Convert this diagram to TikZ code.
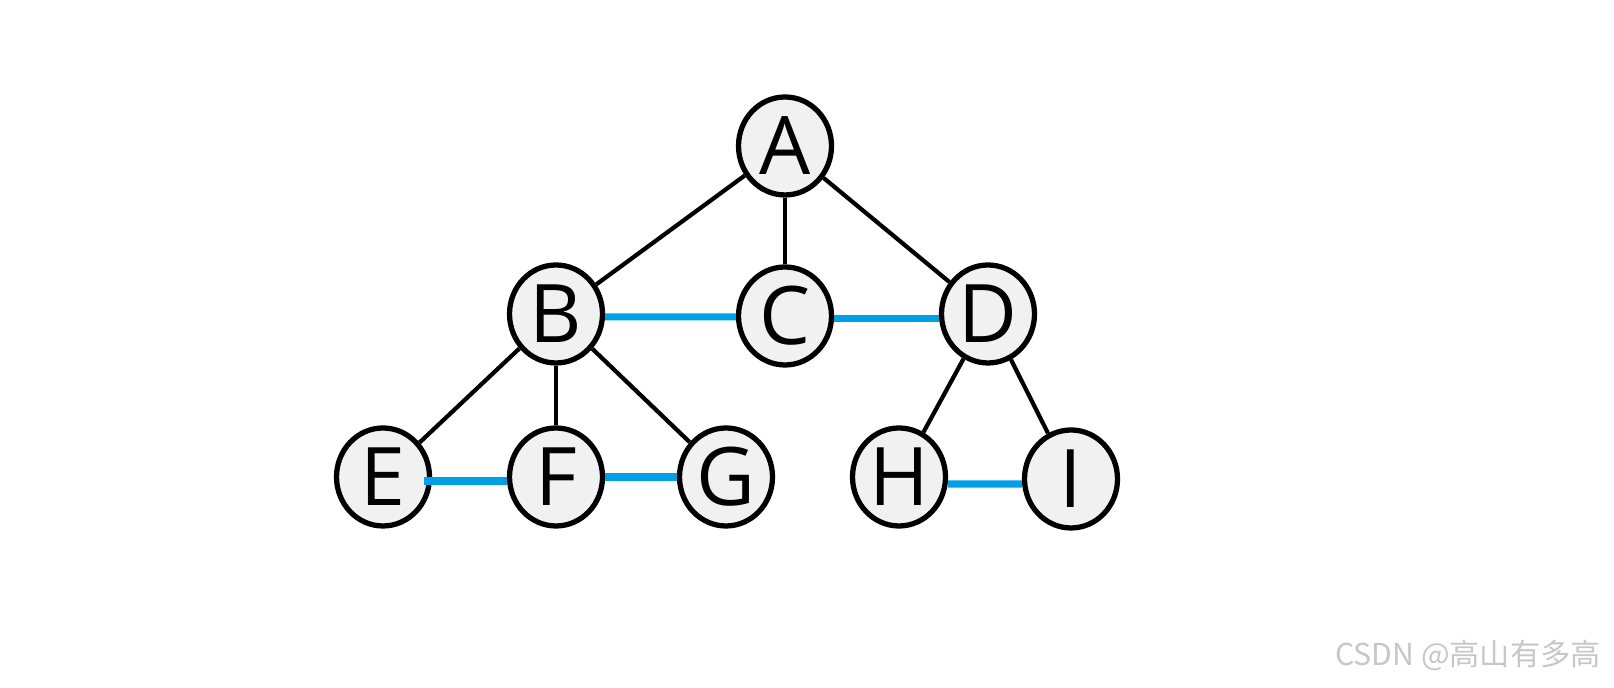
\documentclass[tikz,border=0pt]{standalone}
\usepackage{fontspec}
\setmainfont{Open Sans}
\newfontfamily\cjk{Noto Sans CJK SC}
\usepackage{xcolor}
\usetikzlibrary{positioning,shapes.geometric}
\definecolor{nodefill}{RGB}{241,241,241}
\definecolor{threadblue}{RGB}{0,160,232}

\begin{document}
\begin{tikzpicture}[
        on grid,
        vertex/.style={draw, ellipse, fill=nodefill, line width=1.5pt, minimum width=0.93cm, minimum height=0.98cm, inner sep=0pt, font=\fontsize{23}{23}\selectfont},
        link/.style={line width=1.2pt},
        thread/.style={draw=threadblue, line width=2pt}
    ]
    \useasboundingbox (0,0) rectangle (16.14,6.88);
    \node (a) [vertex] at (7.85,5.42) {A};
    \node (b) [vertex, below left=1.68cm and 2.29cm of a] {B};
    \node (c) [vertex, below=1.70cm of a] {C};
    \node (d) [vertex, below right=1.68cm and 2.03cm of a] {D};
    \node (e) [vertex, below left=1.63cm and 1.73cm of b] {E};
    \node (f) [vertex, below=1.63cm of b] {F};
    \node (g) [vertex, below right=1.63cm and 1.70cm of b] {G};
    \node (h) [vertex, below left=1.63cm and 0.89cm of d] {H};
    \node (i) [vertex, below right=1.65cm and 0.83cm of d] {I};

    \draw[link] (a) -- (b);
    \draw[link] (a) -- (c);
    \draw[link] (a) -- (d);
    \draw[link] (b) -- (e);
    \draw[link] (b) -- (f);
    \draw[link] (b) -- (g);
    \draw[link] (d) -- (h);
    \draw[link] (d) -- (i);

    % threads between siblings
    \draw[thread] ([yshift=-0.03cm]b.east) -- ([yshift=-0.01cm]c.west);
    \draw[thread] ([yshift=-0.03cm]c.east) -- ([yshift=-0.05cm]d.west);
    \draw[thread] ([xshift=-0.08cm,yshift=-0.04cm]e.east) -- ([yshift=-0.04cm]f.west);
    \draw[thread] (f.east) -- (g.west);
    \draw[thread] ([yshift=-0.07cm]h.east) -- ([yshift=-0.05cm]i.west);

    \node (mark) at (14.68,0.33) {\color{black!22}\fontsize{8.6}{9}\selectfont\cjk CSDN @高山有多高};
\end{tikzpicture}
\end{document}
